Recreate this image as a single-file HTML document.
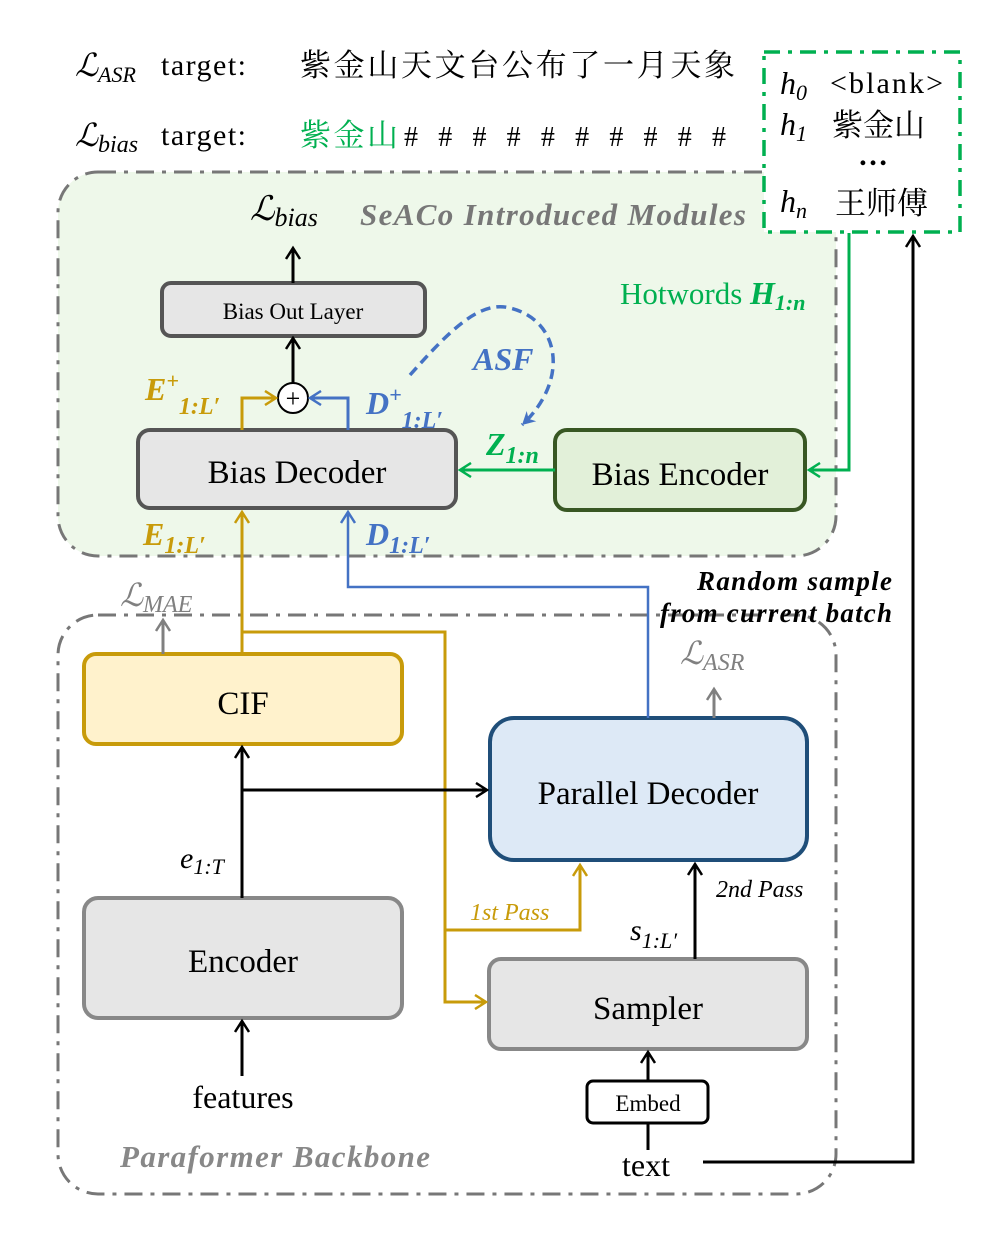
<!DOCTYPE html>
<html><head><meta charset="utf-8"><style>
html,body{margin:0;padding:0;background:#fff;}
svg{display:block;}
text{font-family:"Liberation Serif","Noto Serif CJK SC","Noto Sans CJK SC",serif;}
.cjk{font-family:"Noto Serif CJK SC","Noto Sans CJK SC",serif;}
</style></head><body>
<svg width="994" height="1234" viewBox="0 0 994 1234" xmlns="http://www.w3.org/2000/svg">
<defs>
<marker id="ab" markerWidth="16" markerHeight="16" refX="12" refY="8" orient="auto" markerUnits="userSpaceOnUse"><path d="M1,1 L12,8 L1,15" fill="none" stroke="#000" stroke-width="2.5"/></marker>
<marker id="ag" markerWidth="16" markerHeight="16" refX="12" refY="8" orient="auto" markerUnits="userSpaceOnUse"><path d="M1,1 L12,8 L1,15" fill="none" stroke="#c89b0a" stroke-width="2.5"/></marker>
<marker id="abl" markerWidth="16" markerHeight="16" refX="12" refY="8" orient="auto" markerUnits="userSpaceOnUse"><path d="M1,1 L12,8 L1,15" fill="none" stroke="#4472c4" stroke-width="2.5"/></marker>
<marker id="agr" markerWidth="16" markerHeight="16" refX="12" refY="8" orient="auto" markerUnits="userSpaceOnUse"><path d="M1,1 L12,8 L1,15" fill="none" stroke="#00b050" stroke-width="2.5"/></marker>
<marker id="agy" markerWidth="16" markerHeight="16" refX="12" refY="8" orient="auto" markerUnits="userSpaceOnUse"><path d="M1,1 L12,8 L1,15" fill="none" stroke="#808080" stroke-width="2.5"/></marker>
<marker id="adash" markerWidth="18" markerHeight="18" refX="13" refY="9" orient="auto" markerUnits="userSpaceOnUse"><path d="M0,2 L13,9 L0,16 L4,9 Z" fill="#4472c4"/></marker>
</defs>

<rect x="58" y="172" width="778" height="384" rx="40" fill="#eef8ea" stroke="#777" stroke-width="3" stroke-dasharray="18,8,4,8"/>
<rect x="58" y="615" width="778" height="579" rx="40" fill="none" stroke="#777" stroke-width="3" stroke-dasharray="18,8,4,8"/>
<rect x="764" y="52" width="196" height="180" fill="#fff" stroke="#00b050" stroke-width="3.5" stroke-dasharray="16,8,4,8"/>

<text x="75" y="76" font-size="32" font-style="italic">ℒ<tspan font-size="22" dy="6">ASR</tspan></text>
<text x="161" y="75" font-size="30" textLength="85">target:</text>
<text x="300" y="76" font-size="31" class="cjk" textLength="435">紫金山天文台公布了一月天象</text>
<text x="75" y="146" font-size="32" font-style="italic">ℒ<tspan font-size="24" dy="6">bias</tspan></text>
<text x="161" y="145" font-size="30" textLength="85">target:</text>
<text x="300" y="146" font-size="31" class="cjk" fill="#00b050" textLength="98">紫金山</text>
<text x="404" y="146" font-size="28" textLength="322">##########</text>

<text x="780" y="94" font-size="32" font-style="italic">h<tspan font-size="22" dy="6">0</tspan></text>
<text x="830" y="93" font-size="30" textLength="113">&lt;blank&gt;</text>
<text x="780" y="135" font-size="32" font-style="italic">h<tspan font-size="22" dy="6">1</tspan></text>
<text x="832" y="136" font-size="31" class="cjk">紫金山</text>
<text x="858" y="165" font-size="30" font-weight="bold">…</text>
<text x="780" y="212" font-size="32" font-style="italic">h<tspan font-size="22" dy="6">n</tspan></text>
<text x="835" y="214" font-size="31" class="cjk">王师傅</text>

<text x="250" y="220" font-size="34" font-style="italic">ℒ<tspan font-size="26" dy="6">bias</tspan></text>
<text x="360" y="225" font-size="31" font-weight="bold" font-style="italic" fill="#777" textLength="386">SeACo Introduced Modules</text>
<text x="620" y="304" font-size="31" fill="#00b050">Hotwords <tspan font-weight="bold" font-style="italic" font-size="32">H</tspan><tspan font-weight="bold" font-style="italic" font-size="22" dy="6">1:n</tspan></text>

<rect x="162" y="283" width="263" height="53" rx="9" fill="#e6e6e6" stroke="#555" stroke-width="4"/>
<text x="293" y="319" font-size="23" text-anchor="middle">Bias Out Layer</text>
<rect x="138" y="430" width="318" height="78" rx="12" fill="#e6e6e6" stroke="#555" stroke-width="4"/>
<text x="297" y="483" font-size="33" text-anchor="middle">Bias Decoder</text>
<rect x="555" y="430" width="250" height="80" rx="12" fill="#e2f0d9" stroke="#385723" stroke-width="4"/>
<text x="680" y="485" font-size="33" text-anchor="middle">Bias Encoder</text>
<circle cx="293" cy="398" r="15" fill="#fff" stroke="#000" stroke-width="2"/>
<text x="293" y="407" font-size="26" text-anchor="middle">+</text>

<rect x="84" y="654" width="318" height="90" rx="12" fill="#fff2cc" stroke="#c89b0a" stroke-width="4"/>
<text x="243" y="714" font-size="33" text-anchor="middle">CIF</text>
<rect x="490" y="718" width="317" height="142" rx="24" fill="#dde9f6" stroke="#1f4e79" stroke-width="4"/>
<text x="648" y="804" font-size="33" text-anchor="middle">Parallel Decoder</text>
<rect x="84" y="898" width="318" height="120" rx="14" fill="#e6e6e6" stroke="#888" stroke-width="4"/>
<text x="243" y="972" font-size="33" text-anchor="middle">Encoder</text>
<rect x="489" y="959" width="318" height="90" rx="12" fill="#e6e6e6" stroke="#888" stroke-width="4"/>
<text x="648" y="1019" font-size="33" text-anchor="middle">Sampler</text>
<rect x="587" y="1081" width="121" height="42" rx="6" fill="#fff" stroke="#000" stroke-width="3"/>
<text x="648" y="1111" font-size="23" text-anchor="middle">Embed</text>

<g fill="none" stroke-width="3">
<path d="M293,283 V248" stroke="#000" marker-end="url(#ab)"/>
<path d="M293,383 V338" stroke="#000" marker-end="url(#ab)"/>
<path d="M242,430 V398 H276" stroke="#c89b0a" marker-end="url(#ag)"/>
<path d="M348,430 V398 H310" stroke="#4472c4" marker-end="url(#abl)"/>
<path d="M242,654 V512" stroke="#c89b0a" marker-end="url(#ag)"/>
<path d="M242,632 H445 V1002 H486" stroke="#c89b0a" marker-end="url(#ag)"/>
<path d="M445,930 H580 V865" stroke="#c89b0a" marker-end="url(#ag)"/>
<path d="M648,718 V587 H348 V512" stroke="#4472c4" stroke-width="2.5" marker-end="url(#abl)"/>
<path d="M849,233 V470 H809" stroke="#00b050" marker-end="url(#agr)"/>
<path d="M555,470 H460" stroke="#00b050" marker-end="url(#agr)"/>
<path d="M242,898 V747" stroke="#000" marker-end="url(#ab)"/>
<path d="M242,790 H487" stroke="#000" marker-end="url(#ab)"/>
<path d="M242,1076 V1021" stroke="#000" marker-end="url(#ab)"/>
<path d="M695,959 V864" stroke="#000" marker-end="url(#ab)"/>
<path d="M648,1081 V1052" stroke="#000" marker-end="url(#ab)"/>
<path d="M648,1150 V1123" stroke="#000"/>
<path d="M703,1162 H913 V236" stroke="#000" marker-end="url(#ab)"/>
<path d="M163,654 V620" stroke="#808080" marker-end="url(#agy)"/>
<path d="M714,718 V689" stroke="#808080" marker-end="url(#agy)"/>
<path d="M410,375 C450,330 480,300 510,308 C560,320 570,380 522,425" stroke="#4472c4" stroke-width="3.5" stroke-dasharray="10,6" marker-end="url(#adash)"/>
</g>

<g font-style="italic" font-weight="bold" font-size="32">
<text x="145" y="400" fill="#c89b0a">E<tspan font-size="22" dy="-12">+</tspan><tspan font-size="24" dy="26">1:L′</tspan></text>
<text x="366" y="414" fill="#4472c4">D<tspan font-size="22" dy="-12">+</tspan><tspan font-size="24" dy="26">1:L′</tspan></text>
<text x="473" y="370" fill="#4472c4">ASF</text>
<text x="486" y="455" fill="#00b050">Z<tspan font-size="24" dy="8">1:n</tspan></text>
<text x="143" y="545" fill="#c89b0a">E<tspan font-size="24" dy="8">1:L′</tspan></text>
<text x="366" y="545" fill="#4472c4">D<tspan font-size="24" dy="8">1:L′</tspan></text>
</g>
<text x="697" y="590" font-size="27" font-weight="bold" font-style="italic" textLength="195">Random sample</text>
<text x="660" y="622" font-size="27" font-weight="bold" font-style="italic" textLength="232">from current batch</text>
<text x="120" y="606" font-size="32" font-style="italic" fill="#808080">ℒ<tspan font-size="24" dy="6">MAE</tspan></text>
<text x="680" y="664" font-size="32" font-style="italic" fill="#808080">ℒ<tspan font-size="24" dy="6">ASR</tspan></text>
<text x="180" y="868" font-size="30" font-style="italic">e<tspan font-size="22" dy="6">1:T</tspan></text>
<text x="716" y="897" font-size="24" font-style="italic">2nd Pass</text>
<text x="470" y="920" font-size="24" font-style="italic" fill="#c89b0a">1st Pass</text>
<text x="630" y="940" font-size="30" font-style="italic">s<tspan font-size="22" dy="8">1:L′</tspan></text>
<text x="243" y="1108" font-size="32" text-anchor="middle">features</text>
<text x="646" y="1176" font-size="32" text-anchor="middle">text</text>
<text x="120" y="1167" font-size="31" font-weight="bold" font-style="italic" fill="#888" textLength="310">Paraformer Backbone</text>
</svg>
</body></html>
